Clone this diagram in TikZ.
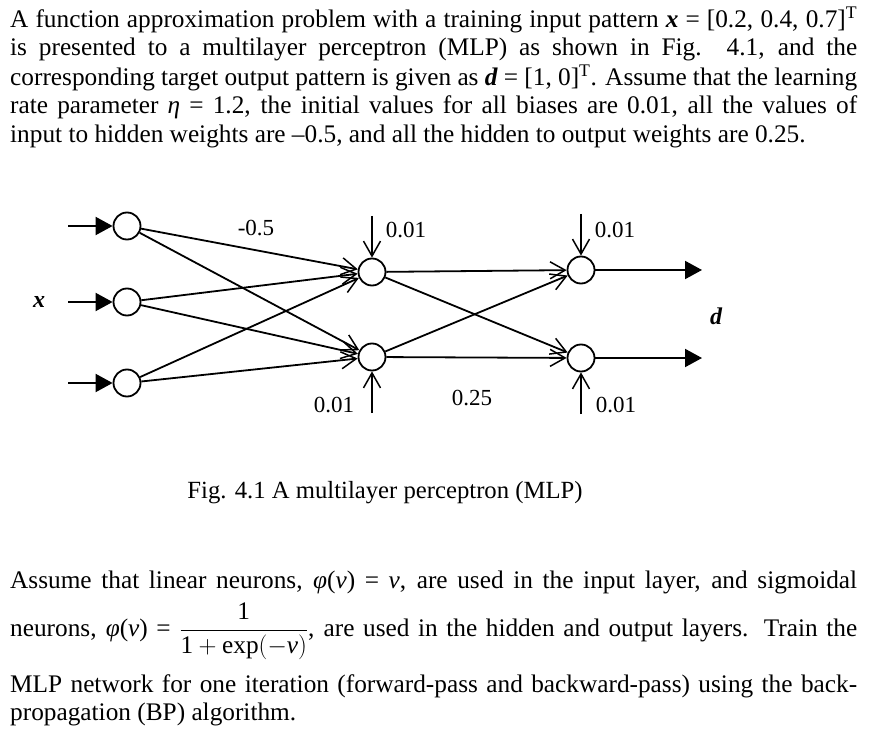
\documentclass[tikz,border=0pt]{standalone}
\usepackage{fontspec}
\setmainfont{Liberation Serif}
\usetikzlibrary{arrows.meta}
\newcommand{\jline}[1]{\hbox to 847pt{#1}}
\begin{document}
\begin{tikzpicture}[x=1pt,y=-1pt,
  neuron/.style={circle,draw,line width=1.8pt,minimum size=27pt,inner sep=0pt},
  conn/.style={line width=1.8pt,-{Straight Barb[length=15pt,width=17pt,line width=1.5pt]}},
  inarr/.style={line width=2pt,-{Triangle[length=17pt,width=18pt]}},
  lab/.style={font=\fontsize{23}{25}\selectfont},
  para/.style={anchor=west,inner sep=0pt,font=\fontsize{25.3}{29}\selectfont}]
\useasboundingbox (0,0) rectangle (894,735);
% top paragraph
\node[para] (l1) at (10,20) {\jline{A function approximation problem with a training input pattern \textbf{\textit{x}} = [0.2, 0.4, 0.7]\textsuperscript{T}}};
\node[para] (l2) at (10,49) {\jline{is presented to a multilayer perceptron (MLP) as shown in Fig. 4.1, and the}};
\node[para] (l3) at (10,78) {\jline{corresponding target output pattern is given as \textbf{\textit{d}} = [1, 0]\textsuperscript{T}. Assume that the learning}};
\node[para] (l4) at (10,107) {\jline{rate parameter \textit{η} = 1.2, the initial values for all biases are 0.01, all the values of}};
\node[para] (l5) at (10,136) {input to hidden weights are –0.5, and all the hidden to output weights are 0.25.};
% network
\node[neuron] (i1) at (127,226) {};
\node[neuron] (i2) at (127,302) {};
\node[neuron] (i3) at (127,383) {};
\node[neuron] (h1) at (372,272) {};
\node[neuron] (h2) at (372,357) {};
\node[neuron] (o1) at (581,270) {};
\node[neuron] (o2) at (581,358) {};
\coordinate (s1) at (68,226); \coordinate (s2) at (68,302); \coordinate (s3) at (68,383);
\foreach \k in {1,2,3} \draw[inarr] (s\k) -- (i\k);
\foreach \a in {1,2,3} \foreach \b in {1,2} \draw[conn] (i\a) -- (h\b);
\foreach \a in {1,2} \foreach \b in {1,2} \draw[conn] (h\a) -- (o\b);
\coordinate (e1) at (702,270); \coordinate (e2) at (702,358);
\draw[inarr] (o1) -- (e1);
\draw[inarr] (o2) -- (e2);
\coordinate (bh1) at (372,216); \coordinate (bh2) at (372,413);
\coordinate (bo1) at (581,214); \coordinate (bo2) at (581,414);
\draw[conn] (bh1) -- (h1); \draw[conn] (bh2) -- (h2);
\draw[conn] (bo1) -- (o1); \draw[conn] (bo2) -- (o2);
\node[lab] (w) at (256,228) {-0.5};
\node[lab] (b1) at (406,230) {0.01};
\node[lab] (b2) at (615,230) {0.01};
\node[lab] (b3) at (334,405) {0.01};
\node[lab] (w2) at (472,398) {0.25};
\node[lab] (b4) at (616,405) {0.01};
\node[font=\fontsize{24}{26}\selectfont\bfseries\itshape] (x) at (39,302) {x};
\node[font=\fontsize{24}{26}\selectfont\bfseries\itshape] (d) at (716,316) {d};
\node[font=\fontsize{24.7}{28}\selectfont] (cap) at (385,493) {Fig. 4.1 A multilayer perceptron (MLP)};
% bottom paragraph
\node[para] (m1) at (10,582) {\jline{Assume that linear neurons, \textit{φ}(\textit{v}) = \textit{v}, are used in the input layer, and sigmoidal}};
\node[para] (m2) at (10,631) {\jline{neurons, \textit{φ}(\textit{v}) = $\displaystyle\frac{\textrm{1}}{\textrm{1}+\textrm{exp}(-\textit{v})}$, are used in the hidden and output layers. Train the}};
\node[para] (m3) at (10,686) {\jline{MLP network for one iteration (forward-pass and backward-pass) using the back-}};
\node[para] (m4) at (10,714) {propagation (BP) algorithm.};
\end{tikzpicture}
\end{document}
